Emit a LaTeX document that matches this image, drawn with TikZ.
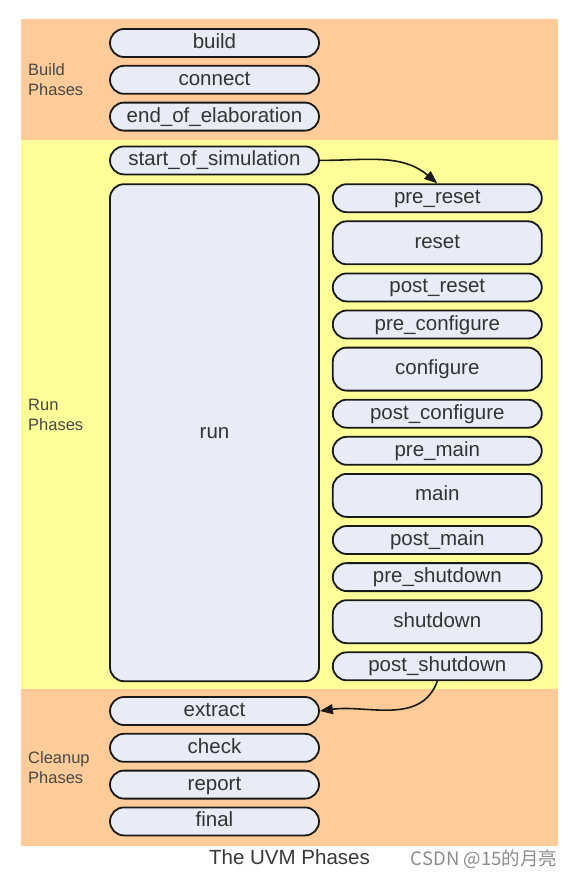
\documentclass[tikz,border=0pt]{standalone}
\usepackage{fontspec}
\setmainfont{Liberation Sans}
\newfontfamily\cjkfont{Noto Sans CJK SC}
\usetikzlibrary{arrows.meta, positioning}

\definecolor{buildband}{HTML}{FFCC99}
\definecolor{runband}{HTML}{FFFF99}
\definecolor{phasefill}{HTML}{E8ECF6}
\definecolor{phasetext}{HTML}{333333}

\begin{document}
\begin{tikzpicture}[x=1pt, y=1pt, node distance=7pt,
    phase/.style={draw=black!90, line width=1.8pt, fill=phasefill, rounded corners=14pt,
        minimum width=209pt, minimum height=28pt, inner sep=0pt, text=phasetext,
        font=\fontsize{20.5}{24}\selectfont, text height=15pt, text depth=4pt},
    longphase/.style={phase, minimum height=43pt},
    band/.style={inner sep=0pt, outer sep=0pt, anchor=north west, minimum width=537pt},
    bandlabel/.style={align=left, anchor=west, inner sep=0pt, text=black!72,
        font=\fontsize{16.5}{20}\selectfont},
    flow/.style={-{Triangle[length=13pt,width=10pt]}, line width=1.6pt, black!90}]
    \useasboundingbox (0,0) rectangle (574,-881);

    % background bands
    \node[band, fill=buildband, minimum height=121pt] (buildzone) at (21,-19) {};
    \node[band, fill=runband, minimum height=549pt] (runzone) at (21,-140) {};
    \node[band, fill=buildband, minimum height=157pt] (cleanupzone) at (21,-689) {};
    \node[bandlabel, right=7pt of buildzone.west] (buildlabel) {Build\\Phases};
    \node[bandlabel, right=7pt of runzone.west] (runlabel) {Run\\Phases};
    \node[bandlabel, right=7pt of cleanupzone.west] (cleanuplabel) {Cleanup\\Phases};

    % left column
    \node[phase] (build) at (214.5,-43) {build};
    \node[phase, below=of build] (connect) {connect};
    \node[phase, below=of connect] (eoe) {end\_of\_elaboration};
    \node[phase, below=14pt of eoe] (sos) {start\_of\_simulation};
    \node[phase, below=8pt of sos, minimum height=497pt] (run) {run};
    \node[phase, below=14pt of run] (extract) {extract};
    \node[phase, below=of extract] (check) {check};
    \node[phase, below=of check] (report) {report};
    \node[phase, below=of report] (final) {final};

    % right column
    \begin{scope}[node distance=7.3pt]
        \node[phase, anchor=north west] (pre_reset) at ([xshift=12pt]run.north east) {pre\_reset};
        \node[longphase, below=of pre_reset] (reset) {reset};
        \node[phase, below=of reset] (post_reset) {post\_reset};
        \node[phase, below=of post_reset] (pre_configure) {pre\_configure};
        \node[longphase, below=of pre_configure] (configure) {configure};
        \node[phase, below=of configure] (post_configure) {post\_configure};
        \node[phase, below=of post_configure] (pre_main) {pre\_main};
        \node[longphase, below=of pre_main] (main) {main};
        \node[phase, below=of main] (post_main) {post\_main};
        \node[phase, below=of post_main] (pre_shutdown) {pre\_shutdown};
        \node[longphase, below=of pre_shutdown] (shutdown) {shutdown};
        \node[phase, below=of shutdown] (post_shutdown) {post\_shutdown};
    \end{scope}

    \draw[flow] (sos.east) to[out=0, in=140] (pre_reset.north);
    \draw[flow] (post_shutdown.south) to[out=-110, in=8] (extract.east);

    % caption
    \node[below=3pt of cleanupzone, inner sep=0pt, text=black!78, font=\fontsize{20.5}{24}\selectfont] (caption) {The UVM Phases};
    \node[text=black!45, inner sep=0pt, font=\fontsize{18.5}{22}\cjkfont] (watermark) at (484,-859) {CSDN @15的月亮};
\end{tikzpicture}
\end{document}
